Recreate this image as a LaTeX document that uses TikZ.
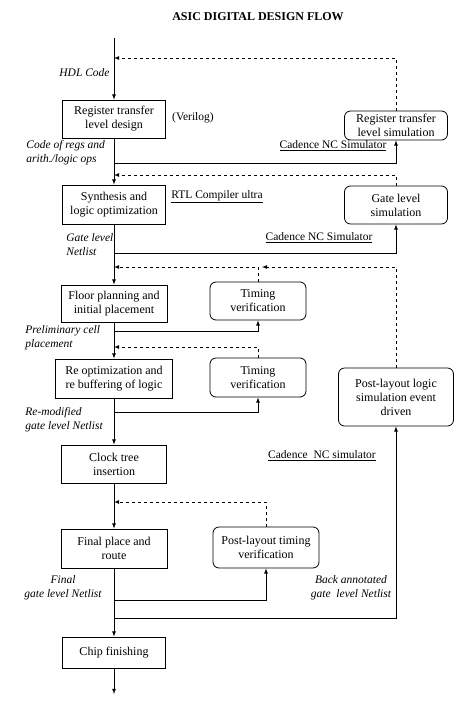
\documentclass[tikz,border=0pt]{standalone}
\usepackage{fontspec}
\setmainfont{Liberation Serif}
\usepackage{tikz}
\usetikzlibrary{arrows.meta}
\usetikzlibrary{arrows}

\tikzset{
    procbox/.style={draw, rectangle, inner sep=0pt, align=center, font=\fontsize{12}{14}\selectfont},
    simbox/.style={procbox, rounded corners=6pt},
    lbl/.style={font=\fontsize{11.5}{14}\selectfont\itshape, inner sep=0pt},
    tool/.style={font=\fontsize{11.5}{14}\selectfont, inner sep=0pt},
}

\begin{document}
\begin{tikzpicture}[>=latex, x=1pt, y=-1pt, line width=0.8pt]
        \useasboundingbox (0,0) rectangle (474,705);
        \node[font=\fontsize{12}{14}\selectfont\bfseries] (title) at (258,17) {ASIC DIGITAL DESIGN FLOW};
        % main flow boxes
        \node[procbox, minimum width=103pt, minimum height=38pt] (rtl) at (114,119) {Register transfer\\level design};
        \node[procbox, minimum width=103pt, minimum height=39pt] (syn) at (114,204.5) {Synthesis and\\logic optimization};
        \node[procbox, minimum width=106pt, minimum height=37pt] (floor) at (114,303.5) {Floor planning and\\initial placement};
        \node[procbox, minimum width=117pt, minimum height=39pt] (reopt) at (114,378.5) {Re optimization and\\re buffering of logic};
        \node[procbox, minimum width=105pt, minimum height=38pt] (clock) at (114,464) {Clock tree\\insertion};
        \node[procbox, minimum width=106pt, minimum height=39pt] (final) at (114,548.5) {Final place and\\route};
        \node[procbox, minimum width=103pt, minimum height=31pt] (chip) at (114,652.5) {Chip finishing};
        % checks on the right
        \node[simbox, minimum width=103pt, minimum height=29pt] (rtlsim) at (396,125.5) {Register transfer\\level simulation};
        \node[simbox, minimum width=103pt, minimum height=38pt] (gatesim) at (396,205) {Gate level\\simulation};
        \node[simbox, minimum width=96pt, minimum height=38pt] (tv1) at (258,301) {Timing\\verification};
        \node[simbox, minimum width=96pt, minimum height=39pt] (tv2) at (258,377.5) {Timing\\verification};
        \node[simbox, minimum width=115pt, minimum height=58pt] (plsim) at (396,397) {Post-layout logic\\simulation event\\driven};
        \node[simbox, minimum width=106pt, minimum height=41pt] (pltv) at (266,547.5) {Post-layout timing\\verification};
        % labels
        \node[lbl, anchor=east] (hdl) at (110,73) {HDL Code};
        \node[tool] (verilog) at (193,118) {(Verilog)};
        \node[lbl, anchor=west, align=left] (codelbl) at (26,153) {Code of regs and\\arith./logic ops};
        \node[tool] (nc1) at (333,146) {\underline{Cadence NC Simulator}};
        \node[tool] (rtlc) at (217,197) {\underline{RTL Compiler ultra}};
        \node[lbl, anchor=west, align=left] (glnet) at (66,245) {Gate level\\Netlist};
        \node[tool] (nc2) at (319,238) {\underline{Cadence NC Simulator}};
        \node[lbl, anchor=west, align=left] (prelim) at (25,338) {Preliminary cell\\placement};
        \node[lbl, anchor=west, align=left] (remod) at (25,420) {Re-modified\\gate level Netlist};
        \node[tool] (nc3) at (322,456) {\underline{Cadence\ \ NC simulator}};
        \node[lbl, align=center] (finlbl) at (63,588) {Final\\gate level Netlist};
        \node[lbl, align=center] (backlbl) at (351,588) {Back annotated\\gate\ \ level Netlist};
        % points on the main line
        \coordinate (top) at (114,38);
        \coordinate (fb1) at (114,58);
        \coordinate (b1) at (114,163);
        \coordinate (fb2) at (114,175);
        \coordinate (b2) at (114,253);
        \coordinate (fb3) at (114,267);
        \coordinate (fb3b) at (262,267);
        \coordinate (b3) at (114,331);
        \coordinate (fb4) at (114,347);
        \coordinate (b4) at (114,412);
        \coordinate (fb5) at (114,502);
        \coordinate (b5) at (114,600);
        \coordinate (b6) at (114,618);
        \coordinate (bottom) at (114,694);
        % main flow
        \draw[->] (top)--(rtl.north);
        \draw[->] (rtl.south)--(syn.north);
        \draw[->] (syn.south)--(floor.north);
        \draw[->] (floor.south)--(reopt.north);
        \draw[->] (reopt.south)--(clock.north);
        \draw[->] (clock.south)--(final.north);
        \draw[->] (final.south)--(chip.north);
        \draw[->] (chip.south)--(bottom);
        % branches to the checks
        \draw[->] (b1) -| (rtlsim.south);
        \draw[->] (b2) -| (gatesim.south);
        \draw[->] (b3) -| (tv1.south);
        \draw[->] (b4) -| (tv2.south);
        \draw[->] (b5) -| (pltv.south);
        \draw[->] (b6) -| (plsim.south);
        % feedback loops
        \draw[dashed, ->] (rtlsim.north) |- (fb1);
        \draw[dashed, ->] (gatesim.north) |- (fb2);
        \draw[dashed, ->] (plsim.north) |- (fb3b);
        \draw[dashed, ->] (tv1.north) |- (fb3);
        \draw[dashed, ->] (tv2.north) |- (fb4);
        \draw[dashed, ->] (pltv.north) |- (fb5);
    \end{tikzpicture}
\end{document}
